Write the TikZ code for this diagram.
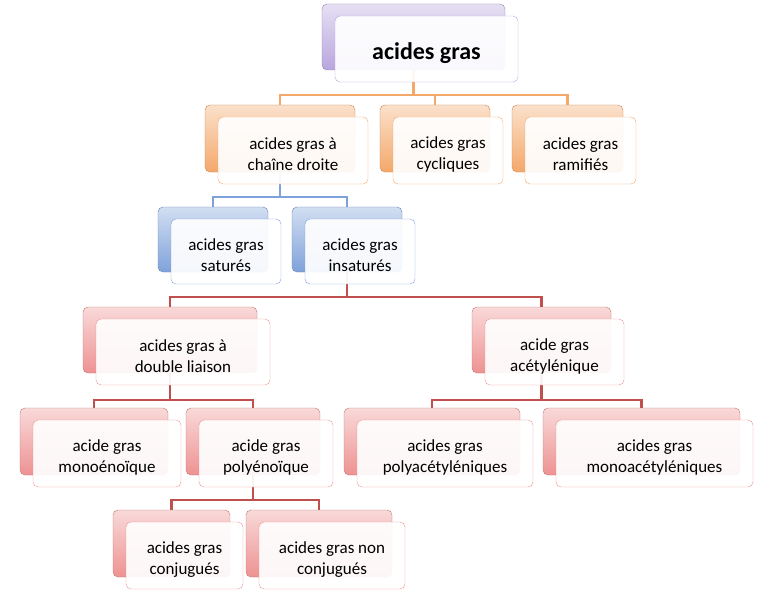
\documentclass[tikz,border=0pt]{standalone}
\usepackage{fontspec}
\setmainfont{Carlito}
\usetikzlibrary{fit}
\definecolor{pu}{HTML}{B8A6DE}
\definecolor{orc}{HTML}{F4A86A}
\definecolor{bl}{HTML}{7FA2DA}
\definecolor{rd}{HTML}{EE9292}
\definecolor{ln}{HTML}{C0504D}
\tikzset{
  backbox/.style={rounded corners=5pt, draw=#1!80!black, top color=#1!35!white, bottom color=#1, inner sep=0pt},
  frontbox/.style={rounded corners=5pt, draw=#1, fill=white, fill opacity=0.92, inner sep=0pt},
  boxtext/.style={align=center, inner sep=0pt, yshift=-4pt, font=\fontsize{17}{21}\selectfont},
  conn/.style={draw=#1, line width=2.6pt}
}
\newcommand{\bx}[7]{%
  \node[backbox=#6, fit={(#2,#3)(#4,#5)}] (#1b) {};
  \node[frontbox=#6, fit={(#2+13,#3+12)(#4+13,#5+12)}] (#1) {};
  \node[boxtext] (#1t) at (#1.center) {#7};}
\begin{document}
\begin{tikzpicture}[x=1pt,y=-1pt]
\useasboundingbox (0,0) rectangle (768,599);
\coordinate (ta) at (0,95);
\coordinate (tb) at (0,197);
\coordinate (tc) at (0,297);
\coordinate (td) at (0,400);
\coordinate (te) at (0,500);
\begin{scope}[opacity=0]
\bx{root}{322}{4}{505}{70}{pu}{}
\bx{ch}{205}{105}{355}{172}{orc}{}
\bx{cy}{380}{105}{490}{172}{orc}{}
\bx{ra}{512}{105}{623}{172}{orc}{}
\bx{sa}{158}{207}{268}{272}{bl}{}
\bx{in}{292}{207}{402}{272}{bl}{}
\bx{dl}{83}{307}{257}{373}{rd}{}
\bx{ac}{472}{307}{611}{373}{rd}{}
\bx{mo}{20}{408}{168}{475}{rd}{}
\bx{po}{186}{408}{320}{475}{rd}{}
\bx{pa}{344}{408}{520}{475}{rd}{}
\bx{ma}{543}{408}{740}{475}{rd}{}
\bx{cj}{113}{510}{230}{577}{rd}{}
\bx{nc}{246}{510}{392}{577}{rd}{}
\end{scope}
\foreach \p/\c/\t/\col in {root/ch/ta/orc,root/cy/ta/orc,root/ra/ta/orc,
  ch/sa/tb/bl,ch/in/tb/bl,in/dl/tc/ln,in/ac/tc/ln,dl/mo/td/ln,dl/po/td/ln,
  ac/pa/td/ln,ac/ma/td/ln,po/cj/te/ln,po/nc/te/ln}
  \draw[conn=\col] (\p b.south) -- (\p b.south |- \t) -| (\c b.north);
\bx{root}{322}{4}{505}{70}{pu}{\fontsize{24}{28}\selectfont\bfseries acides gras}
\bx{ch}{205}{105}{355}{172}{orc}{acides gras à\\chaîne droite}
\bx{cy}{380}{105}{490}{172}{orc}{acides gras\\cycliques}
\bx{ra}{512}{105}{623}{172}{orc}{acides gras\\ramifiés}
\bx{sa}{158}{207}{268}{272}{bl}{acides gras\\saturés}
\bx{in}{292}{207}{402}{272}{bl}{acides gras\\insaturés}
\bx{dl}{83}{307}{257}{373}{rd}{acides gras à\\double liaison}
\bx{ac}{472}{307}{611}{373}{rd}{acide gras\\acétylénique}
\bx{mo}{20}{408}{168}{475}{rd}{acide gras\\monoénoïque}
\bx{po}{186}{408}{320}{475}{rd}{acide gras\\polyénoïque}
\bx{pa}{344}{408}{520}{475}{rd}{acides gras\\polyacétyléniques}
\bx{ma}{543}{408}{740}{475}{rd}{acides gras\\monoacétyléniques}
\bx{cj}{113}{510}{230}{577}{rd}{acides gras\\conjugués}
\bx{nc}{246}{510}{392}{577}{rd}{acides gras non\\conjugués}
\end{tikzpicture}
\end{document}
